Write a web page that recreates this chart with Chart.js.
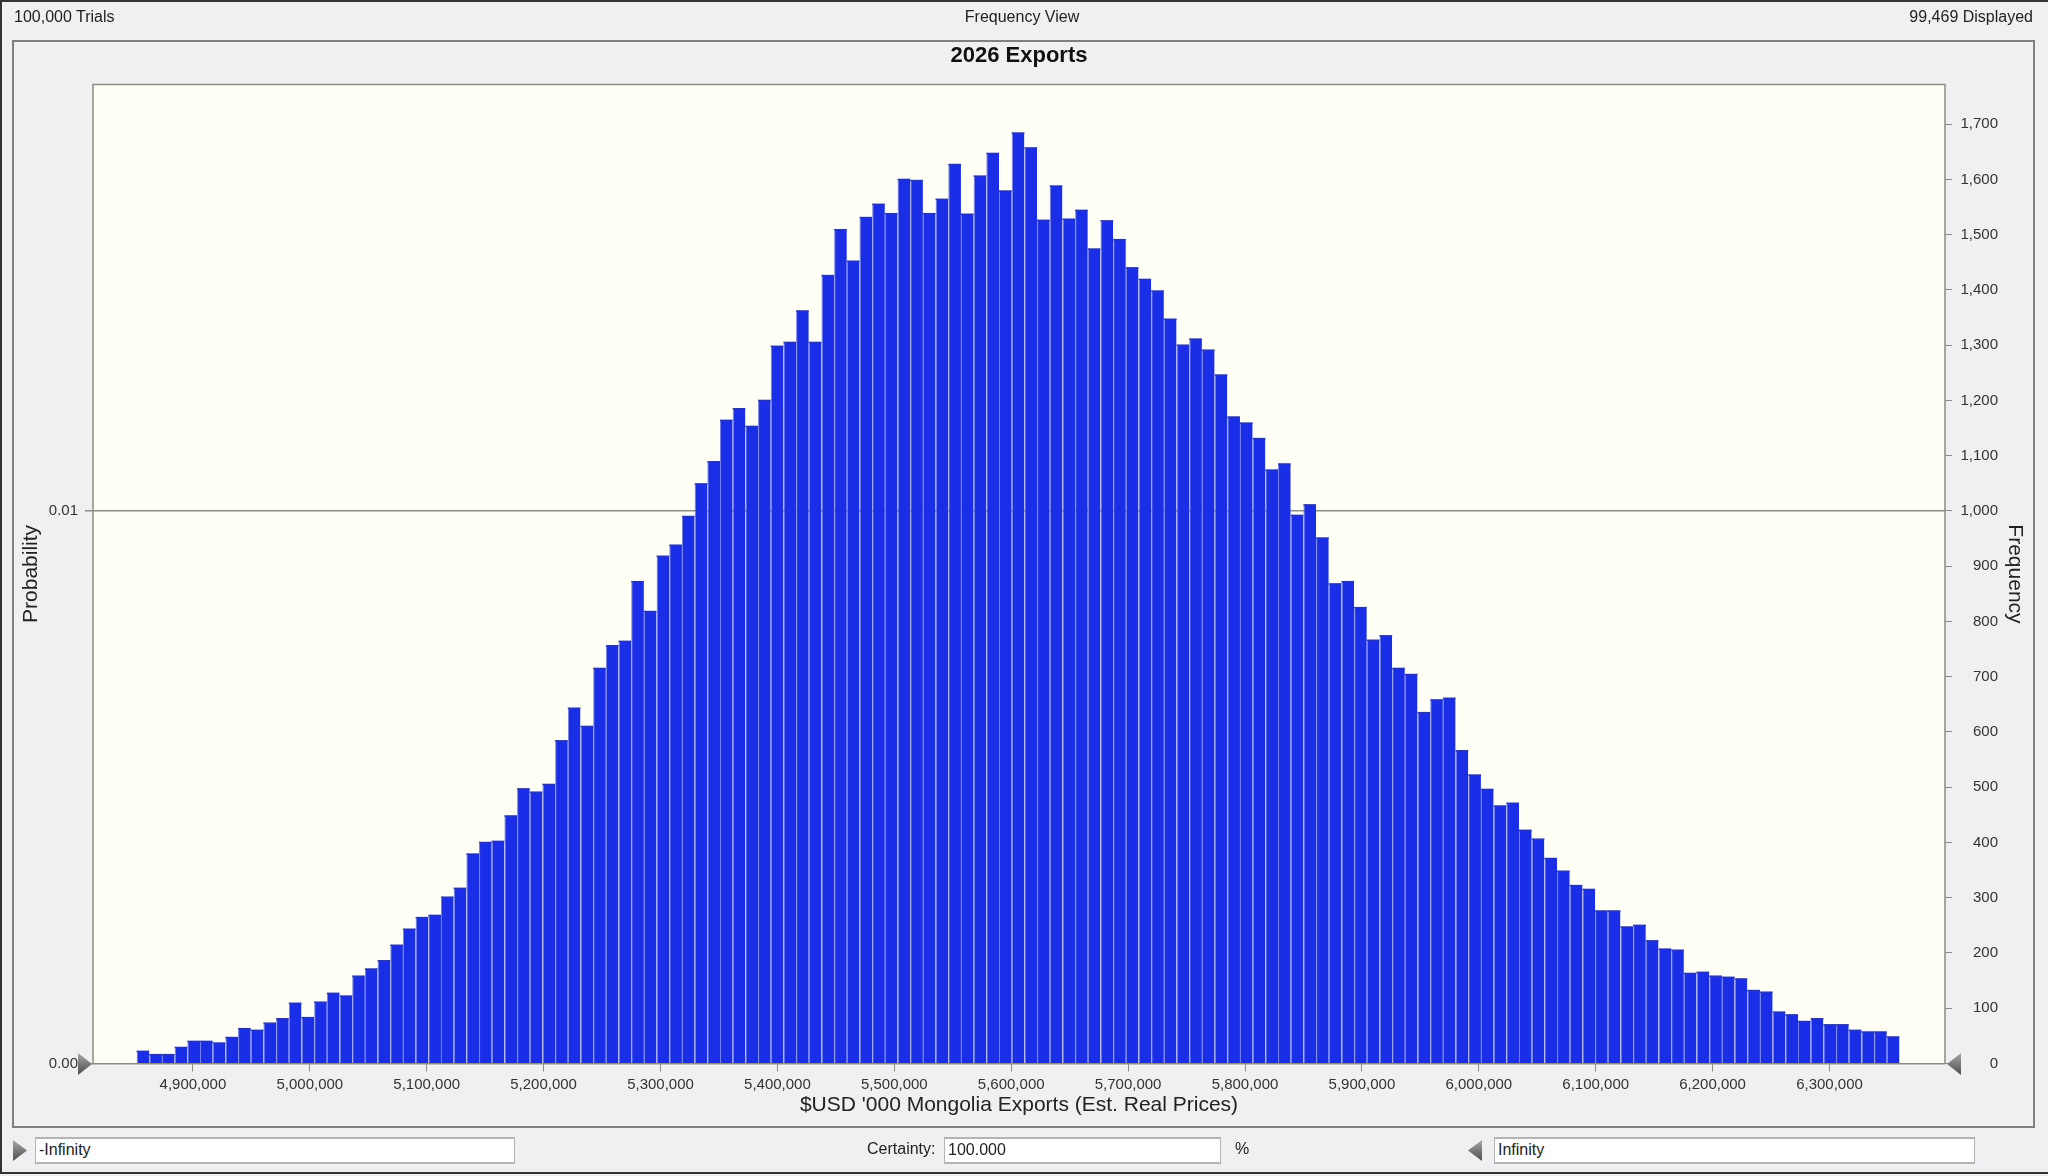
<!DOCTYPE html>
<html>
<head>
<meta charset="utf-8">
<title>2026 Exports</title>
<script src="https://cdn.jsdelivr.net/npm/chart.js@4"></script>
<style>
  html, body { margin: 0; padding: 0; width: 2048px; height: 1176px; overflow: hidden; background: #f0f0f3; }
  body { position: relative; font-family: "Liberation Sans", Arial, sans-serif; font-size: 16px; color: #222; }
  canvas { position: absolute; left: 0; top: 0; }
  .abs { position: absolute; white-space: nowrap; }
  #window { left: 0; top: 0; width: 2048px; height: 1174px; border-top: 2px solid #333; border-left: 2px solid #333; border-bottom: 2px solid #333; box-sizing: border-box; }
  #frame { left: 12px; top: 40px; width: 2023px; height: 1088px; border: 2px solid #808080; box-sizing: border-box; }
  .field { height: 27px; line-height: 22px; background: #fff; border: 1px solid #b4b4b4; border-top-width: 2px; border-bottom-width: 2px; box-sizing: border-box; padding-left: 3px; }
  .tri { background: linear-gradient(#a8a8a8, #4c4c4c); }
  .tri.right { clip-path: polygon(0 0, 100% 50%, 0 100%); }
  .tri.left { clip-path: polygon(100% 0, 0 50%, 100% 100%); }
</style>
</head>
<body>
<div class="abs" id="window"></div>
<div class="abs" id="frame"></div>
<canvas id="chart" width="2048" height="1176"></canvas>

<div class="abs" style="left:14px;top:8px">100,000 Trials</div>
<div class="abs" style="left:1022px;top:8px;transform:translateX(-50%)">Frequency View</div>
<div class="abs" style="right:15px;top:8px">99,469 Displayed</div>

<div class="abs tri right" style="left:78px;top:1053px;width:14px;height:22px"></div>
<div class="abs tri left" style="left:1947px;top:1053px;width:14px;height:22px"></div>

<div class="abs tri right" style="left:13px;top:1140px;width:14px;height:21px"></div>
<div class="abs field" style="left:35px;top:1137px;width:480px">-Infinity</div>
<div class="abs" style="left:867px;top:1140px">Certainty:</div>
<div class="abs field" style="left:944px;top:1137px;width:277px">100.000</div>
<div class="abs" style="left:1235px;top:1140px">%</div>
<div class="abs tri left" style="left:1468px;top:1140px;width:14px;height:21px"></div>
<div class="abs field" style="left:1494px;top:1137px;width:481px">Infinity</div>

<script>
// histogram counts, one per bin, left to right
const frequency = [
  22, 16, 16, 29, 40, 40, 37, 47, 63, 60,
  73, 81, 109, 83, 111, 127, 122, 158, 171, 186,
  214, 243, 264, 268, 301, 317, 379, 400, 402, 448,
  497, 491, 505, 584, 643, 610, 715, 756, 764, 872,
  818, 918, 938, 990, 1049, 1089, 1164, 1185, 1153, 1200,
  1298, 1305, 1362, 1305, 1426, 1509, 1452, 1531, 1555, 1538,
  1600, 1598, 1538, 1564, 1627, 1537, 1606, 1647, 1579, 1684,
  1657, 1526, 1588, 1528, 1544, 1474, 1525, 1491, 1440, 1419,
  1398, 1347, 1300, 1311, 1291, 1246, 1170, 1159, 1131, 1074,
  1085, 992, 1011, 951, 868, 872, 825, 766, 774, 715,
  704, 635, 658, 661, 566, 522, 496, 466, 471, 422,
  406, 371, 348, 322, 315, 276, 276, 247, 250, 222,
  207, 205, 163, 165, 158, 156, 153, 132, 129, 93,
  88, 76, 81, 70, 70, 60, 57, 57, 48
];
const binStart = 4851840;
const binWidth = 10849;
const xTickValues = [4900000, 5000000, 5100000, 5200000, 5300000, 5400000, 5500000, 5600000, 5700000, 5800000, 5900000, 6000000, 6100000, 6200000, 6300000];
const freqTickValues = [0, 100, 200, 300, 400, 500, 600, 700, 800, 900, 1000, 1100, 1200, 1300, 1400, 1500, 1600, 1700];
const probTickValues = [0, 0.01];

const FONT = "'Liberation Sans', Arial, sans-serif";
const AXIS_GRAY = "#8c8c84";

const bars = frequency.map((v, i) => ({ x: binStart + (i + 0.5) * binWidth, y: v }));

// plot background and border go under the bars, dark cap on top of each bar
const plotDecor = {
  id: "plotDecor",
  beforeDraw(chart) {
    const a = chart.chartArea;
    const ctx = chart.ctx;
    ctx.save();
    ctx.fillStyle = "#fffff6";
    ctx.fillRect(a.left, a.top, a.right - a.left, a.bottom - a.top);
    ctx.restore();
  },
  afterDatasetsDraw(chart) {
    const ctx = chart.ctx;
    ctx.save();
    ctx.strokeStyle = "#2a35a8";
    ctx.lineWidth = 1.5;
    chart.getDatasetMeta(0).data.forEach(bar => {
      const p = bar.getProps(["x", "y", "width"], true);
      ctx.beginPath();
      ctx.moveTo(p.x - p.width / 2, p.y);
      ctx.lineTo(p.x + p.width / 2, p.y);
      ctx.stroke();
    });
    ctx.restore();
  },
  afterDraw(chart) {
    const a = chart.chartArea;
    const ctx = chart.ctx;
    ctx.save();
    ctx.strokeStyle = AXIS_GRAY;
    ctx.lineWidth = 1.5;
    ctx.beginPath();
    ctx.moveTo(a.left, a.bottom);
    ctx.lineTo(a.left, a.top);
    ctx.lineTo(a.right, a.top);
    ctx.lineTo(a.right, a.bottom);
    ctx.stroke();
    ctx.restore();
  }
};

new Chart(document.getElementById("chart").getContext("2d"), {
  type: "bar",
  data: {
    datasets: [{
      label: "Frequency",
      data: bars,
      xAxisID: "x",
      yAxisID: "y",
      backgroundColor: "#1a2ee8",
      borderColor: "#7380ec",
      borderWidth: { left: 1, right: 0, top: 0, bottom: 0 },
      borderSkipped: false,
      inflateAmount: 0,
      barPercentage: 1,
      categoryPercentage: 1
    }]
  },
  options: {
    responsive: false,
    animation: false,
    devicePixelRatio: 1,
    // the side paddings keep the right tick labels right-aligned at the scale edge,
    // the axis titles then sit outside their scale boxes
    layout: { padding: { left: 40, right: 50, top: 0, bottom: 0 } },
    plugins: {
      legend: { display: false },
      tooltip: { enabled: false },
      title: {
        display: true,
        text: "2026 Exports",
        color: "#111",
        font: { family: FONT, size: 22, weight: "bold", lineHeight: 1.2 },
        padding: { top: 43, bottom: 15 }
      }
    },
    scales: {
      x: {
        type: "linear",
        offset: false,
        min: 4814542,
        max: 6398802,
        afterFit: s => { s.height = 112.5; },
        afterBuildTicks: s => { s.ticks = xTickValues.map(v => ({ value: v })); },
        grid: { offset: false, drawOnChartArea: false, color: AXIS_GRAY, tickLength: 8, lineWidth: 1 },
        border: { display: false },
        ticks: {
          color: "#333",
          font: { family: FONT, size: 15 },
          padding: 4,
          maxRotation: 0,
          autoSkip: false,
          callback: v => Number(v).toLocaleString("en-US")
        },
        title: {
          display: true,
          text: "$USD '000 Mongolia Exports (Est. Real Prices)",
          color: "#222",
          font: { family: FONT, size: 21, lineHeight: 1.2 },
          padding: { top: 0, bottom: 58 }
        }
      },
      yProb: {
        type: "linear",
        position: "left",
        min: 0,
        max: 0.01772,
        afterFit: s => { s.width = 53; },
        afterBuildTicks: s => { s.ticks = probTickValues.map(v => ({ value: v })); },
        grid: { color: AXIS_GRAY, tickLength: 8, lineWidth: 1.5 },
        border: { display: false },
        ticks: {
          color: "#333",
          font: { family: FONT, size: 15 },
          padding: 7,
          callback: v => Number(v).toFixed(2)
        },
        title: {
          display: true,
          text: "Probability",
          color: "#222",
          font: { family: FONT, size: 21, lineHeight: 1.2 },
          padding: { top: -21.6, bottom: 0 }
        }
      },
      y: {
        type: "linear",
        position: "right",
        min: 0,
        max: 1772,
        afterFit: s => { s.width = 53; },
        afterBuildTicks: s => { s.ticks = freqTickValues.map(v => ({ value: v })); },
        grid: { drawOnChartArea: false, color: AXIS_GRAY, tickLength: 7, lineWidth: 1 },
        border: { display: false },
        ticks: {
          color: "#333",
          font: { family: FONT, size: 15 },
          padding: 9,
          crossAlign: "far",
          autoSkip: false,
          callback: v => Number(v).toLocaleString("en-US")
        },
        title: {
          display: true,
          text: "Frequency",
          color: "#222",
          font: { family: FONT, size: 21, lineHeight: 1.2 },
          padding: { top: -29.6, bottom: 0 }
        }
      }
    }
  },
  plugins: [plotDecor]
});
</script>
</body>
</html>
